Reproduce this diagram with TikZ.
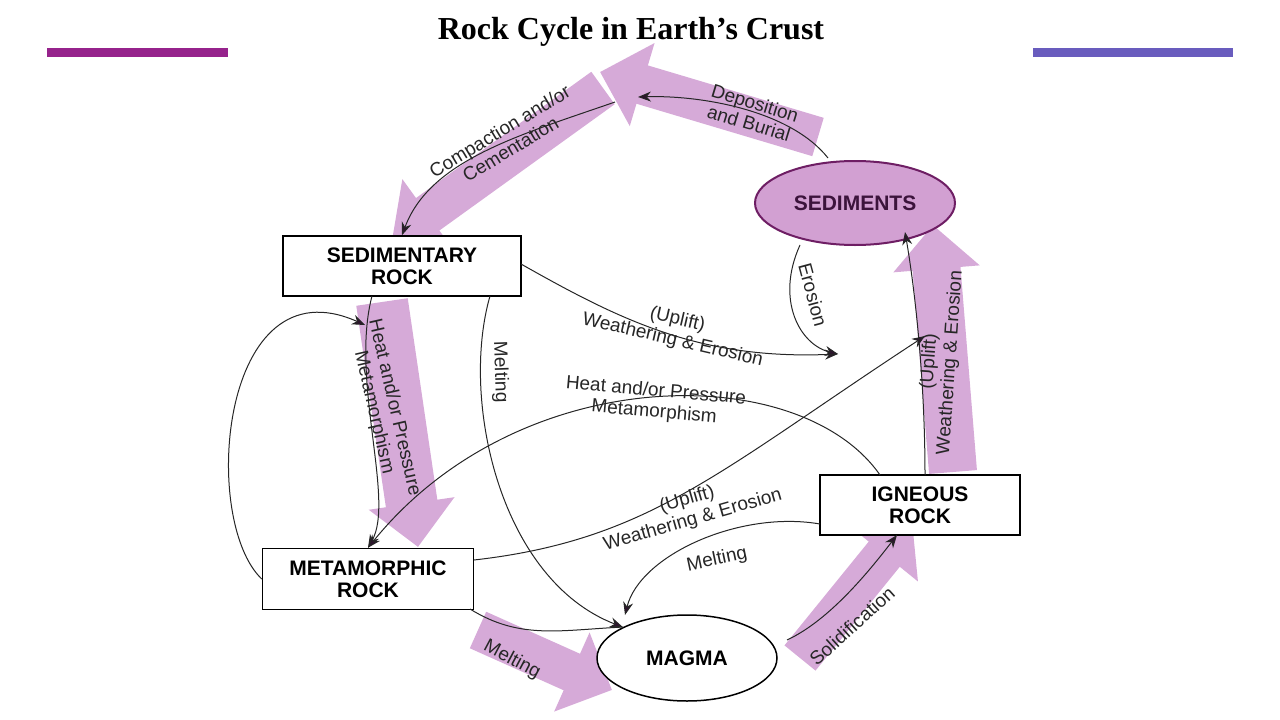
\documentclass[tikz,border=0pt]{standalone}
\usepackage{fontspec}
\setmainfont{Liberation Sans}
\newfontfamily\titlefont{Liberation Serif}
\usetikzlibrary{arrows.meta,shapes.geometric}
\definecolor{lilac}{RGB}{214,170,216}
\definecolor{plum}{RGB}{110,30,100}
\definecolor{tipcol}{RGB}{45,20,45}
\tikzset{
  rockbox/.style={draw,line width=1.5pt,fill=white,align=center,font=\fontsize{21}{22}\selectfont\bfseries,inner sep=0pt},
  bigarr/.style={draw=lilac,line width=40pt,-{Triangle[length=44pt,width=84pt]}},
  thin/.style={draw=black!85,line width=1pt,-{Stealth[length=13pt,width=10pt,fill=tipcol]}},
  lbl/.style={font=\fontsize{19}{21}\selectfont,align=center,text=black!85}
}
\begin{document}
\begin{tikzpicture}[x=1pt,y=1pt,yscale=-1]
\useasboundingbox (0,0) rectangle (1280,720);

% title and bars
\node[font=\titlefont\fontsize{32}{34}\selectfont\bfseries] (title) at (631,32) {Rock Cycle in Earth’s Crust};
\fill[fill={rgb,255:red,150;green,35;blue,140}] (47,48) rectangle (228,57);
\fill[fill={rgb,255:red,105;green,92;blue,190}] (1033,48) rectangle (1233,57);

% big arrows
\draw[bigarr] (818,137) -- (600,72);
\draw[bigarr] (603,88) -- (392,240);
\draw[bigarr,line width=52pt] (382,302) -- (418,547);
\draw[bigarr] (478,630) -- (612,690);
\draw[bigarr] (800,658) -- (912,520);
\draw[bigarr,line width=48pt] (953,472) -- (933,225);

% rocks
\node[rockbox,minimum width=238pt,minimum height=60pt] (sed) at (402,266) {SEDIMENTARY\\ROCK};
\node[rockbox,minimum width=211pt,minimum height=61pt] (meta) at (368,579) {METAMORPHIC\\ROCK};
\node[rockbox,minimum width=200pt,minimum height=60pt] (ign) at (920,505) {IGNEOUS\\ROCK};
\node[ellipse,draw=plum,line width=2pt,fill={rgb,255:red,210;green,160;blue,210},minimum width=200pt,minimum height=84pt,font=\fontsize{21}{22}\selectfont\bfseries,text={rgb,255:red,60;green,20;blue,60}] (sedi) at (855,203) {SEDIMENTS};
\node[ellipse,draw,line width=1.5pt,fill=white,minimum width=180pt,minimum height=86pt,font=\fontsize{21}{22}\selectfont\bfseries] (magma) at (687,658) {MAGMA};

% connector ends
\coordinate (ew) at (838,354);
\coordinate (ew2) at (925,336);
\coordinate (depA) at (828,158);
\coordinate (depB) at (638,97);
\coordinate (cmpA) at (615,102);
\coordinate (sedE) at (521,264);
\coordinate (sedS1) at (372,296);
\coordinate (sedS2) at (490,296);
\coordinate (eroA) at (800,245);
\coordinate (ignN1) at (880,475);
\coordinate (ignN2) at (925,475);
\coordinate (sediS) at (905,232);
\coordinate (ignW) at (820,524);
\coordinate (magNW) at (625,615);
\coordinate (magE) at (787,640);
\coordinate (ignS) at (897,535);
\coordinate (metE) at (474,560);
\coordinate (metSE) at (470,609);

% thin connectors
\draw[thin] (depA) .. controls (790,110) and (700,95) .. (depB);
\draw[thin] (cmpA) .. controls (520,135) and (430,160) .. (sed.north);
\draw[thin] (sedE) .. controls (620,320) and (700,360) .. (ew);
\draw[thin] (eroA) .. controls (775,300) and (800,345) .. (ew);
\draw[thin] (sedS1) .. controls (350,380) and (395,500) .. (meta.north);
\draw[thin] (meta.west) .. controls (200,520) and (220,260) .. (365,325);
\draw[thin] (sedS2) .. controls (460,400) and (500,580) .. (magma.north west);
\draw[thin] (ignN1) .. controls (800,360) and (520,360) .. (meta.north);
\draw[thin] (metE) .. controls (650,540) and (720,470) .. (ew2);
\draw[thin] (ignN2) .. controls (925,380) and (915,290) .. (sediS);
\draw[thin] (ignW) .. controls (740,510) and (640,555) .. (magNW);
\draw[thin] (magE) .. controls (830,620) and (870,570) .. (ignS);
\draw[line width=1pt,black!85] (metSE) .. controls (520,640) and (560,630) .. (magma.north west);

% labels
\node[lbl,rotate=-17] (lb1) at (752,113) {Deposition\\and Burial};
\node[lbl,rotate=31] (lb2) at (505,140) {Compaction and/or\\Cementation};
\node[lbl,rotate=-77] (lb3) at (384,410) {Heat and/or Pressure\\Metamorphism};
\node[lbl,rotate=-88] (lb4) at (500,372) {Melting};
\node[lbl,rotate=-13] (lb5) at (675,330) {(Uplift)\\Weathering \& Erosion};
\node[lbl,rotate=-75] (lb6) at (813,295) {Erosion};
\node[lbl,rotate=-5] (lb7) at (655,402) {Heat and/or Pressure\\Metamorphism};
\node[lbl,rotate=16] (lb8) at (690,510) {(Uplift)\\Weathering \& Erosion};
\node[lbl,rotate=86] (lb9) at (940,362) {(Uplift)\\Weathering \& Erosion};
\node[lbl,rotate=12] (lb10) at (717,560) {Melting};
\node[lbl,rotate=-28] (lb11) at (512,660) {Melting};
\node[lbl,rotate=42] (lb12) at (852,626) {Solidification};
\end{tikzpicture}
\end{document}
